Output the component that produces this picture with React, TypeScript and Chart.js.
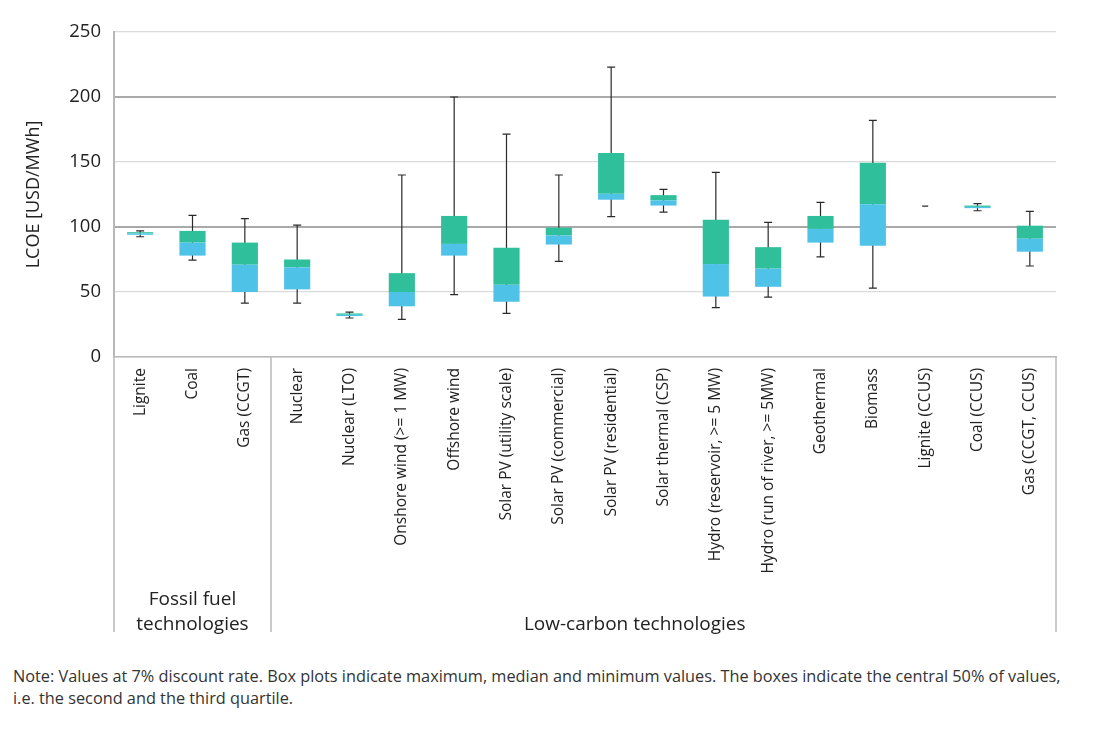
import React, { useEffect, useRef } from "react";
import { Chart, registerables } from "chart.js";

Chart.register(...registerables);

const categories = [
  "Lignite",
  "Coal",
  "Gas (CCGT)",
  "Nuclear",
  "Nuclear (LTO)",
  "Onshore wind (>= 1 MW)",
  "Offshore wind",
  "Solar PV (utility scale)",
  "Solar PV (commercial)",
  "Solar PV (residential)",
  "Solar thermal (CSP)",
  "Hydro (reservoir, >= 5 MW)",
  "Hydro (run of river, >= 5MW)",
  "Geothermal",
  "Biomass",
  "Lignite (CCUS)",
  "Coal (CCUS)",
  "Gas (CCGT, CCUS)",
];

const minVals = [92.5, 74.5, 41.5, 41.5, 30, 29, 48, 33.5, 73.5, 108, 111.5, 38, 46, 77, 53, 116, 112.5, 70];
const q1Vals = [94, 78, 50, 52, 31.5, 39, 78, 42.5, 86.5, 121, 116.5, 46.5, 54, 88, 85.5, 116, 114.5, 81];
const medianVals = [95, 88, 71, 69, 32.5, 50, 87, 55.5, 93.5, 125.5, 120.5, 71.5, 68, 98.5, 117.5, 116, 115.5, 91];
const q3Vals = [96, 97, 88, 75, 33.5, 64.5, 108.5, 84, 99.5, 157, 124.5, 105.5, 84.5, 108.5, 149.5, 116, 116.5, 101];
const maxVals = [97, 109, 106.5, 101.5, 34.5, 140, 200, 171.5, 140, 223, 129, 142, 103.5, 119, 182, 116, 118, 112];

const yTicks = [0, 50, 100, 150, 200, 250];

const groups = [
  { lines: ["Fossil fuel", "technologies"], at: 1 },
  { lines: ["Low-carbon technologies"], at: 9.45 },
];

const GREEN = "#2fbf9a";
const BLUE = "#4fc2e8";
const AXIS = "#b8b8b8";

const whiskers = {
  id: "whiskers",
  beforeDatasetsDraw(chart: Chart) {
    const { ctx } = chart;
    const x = chart.scales.x;
    const y = chart.scales.y;
    ctx.save();
    ctx.strokeStyle = "#2a2a2a";
    ctx.lineWidth = 1.2;
    categories.forEach((_, i) => {
      const px = x.getPixelForValue(i);
      const top = y.getPixelForValue(maxVals[i]);
      const bot = y.getPixelForValue(minVals[i]);
      const cap = top === bot ? 3 : 4;
      ctx.beginPath();
      ctx.moveTo(px, top);
      ctx.lineTo(px, bot);
      ctx.moveTo(px - cap, top);
      ctx.lineTo(px + cap, top);
      ctx.moveTo(px - cap, bot);
      ctx.lineTo(px + cap, bot);
      ctx.stroke();
    });
    ctx.restore();
  },
};

const groupLabels = {
  id: "groupLabels",
  afterDraw(chart: Chart) {
    const { ctx, chartArea } = chart;
    const x = chart.scales.x;
    const bottom = 632;
    const step = x.getPixelForValue(1) - x.getPixelForValue(0);
    ctx.save();
    ctx.strokeStyle = AXIS;
    ctx.lineWidth = 1.5;
    const edges = [chartArea.left, x.getPixelForValue(2) + step / 2, chartArea.right];
    edges.forEach((ex) => {
      ctx.beginPath();
      ctx.moveTo(ex, chartArea.bottom);
      ctx.lineTo(ex, bottom);
      ctx.stroke();
    });
    ctx.fillStyle = "#222";
    ctx.font = "19px 'Open Sans', sans-serif";
    ctx.textAlign = "center";
    ctx.textBaseline = "middle";
    groups.forEach((g) => {
      const cx = g.at === 1 ? (chartArea.left + edges[1]) / 2 : x.getPixelForValue(g.at);
      const n = g.lines.length;
      g.lines.forEach((line, k) => {
        ctx.fillText(line, cx, 625 - (n - 1 - k) * 25);
      });
    });
    ctx.restore();
  },
};

export default function App() {
  const canvasRef = useRef<HTMLCanvasElement>(null);

  useEffect(() => {
    const ctx = canvasRef.current?.getContext("2d");
    if (!ctx) return;
    Chart.defaults.font.family = "'Open Sans', sans-serif";
    const chart = new Chart(ctx, {
      type: "bar",
      data: {
        labels: categories,
        datasets: [
          {
            label: "Lower box",
            data: q1Vals.map((v, i) => [v, medianVals[i]]) as any,
            backgroundColor: BLUE,
            grouped: false,
            barPercentage: 0.5,
            categoryPercentage: 1,
            borderWidth: 0,
          },
          {
            label: "Upper box",
            data: medianVals.map((v, i) => [v, q3Vals[i]]) as any,
            backgroundColor: GREEN,
            grouped: false,
            barPercentage: 0.5,
            categoryPercentage: 1,
            borderWidth: 0,
          },
        ],
      },
      options: {
        responsive: true,
        maintainAspectRatio: false,
        animation: false,
        layout: { padding: { left: 0, right: 50, top: 32, bottom: 0 } },
        plugins: {
          legend: { display: false },
          tooltip: { enabled: false },
        },
        scales: {
          x: {
            grid: { display: false },
            border: { color: AXIS, width: 1.5 },
            ticks: {
              autoSkip: false,
              minRotation: 90,
              maxRotation: 90,
              padding: 3,
              color: "#222",
              font: { size: 15.5 },
            },
            afterFit: (scale: any) => {
              scale.height = 288;
            },
          },
          y: {
            min: 0,
            max: 250,
            afterBuildTicks: (scale: any) => {
              scale.ticks = yTicks.map((v) => ({ value: v }));
            },
            grid: {
              drawTicks: false,
              color: (c: any) =>
                c.tick.value === 100 || c.tick.value === 200 ? "#a9a9a9" : "#dadada",
              lineWidth: (c: any) => (c.tick.value === 100 || c.tick.value === 200 ? 2 : 1.2),
            },
            border: { color: AXIS, width: 2 },
            ticks: {
              padding: 13,
              color: "#222",
              font: { size: 18.5 },
            },
            title: {
              display: true,
              text: "LCOE [USD/MWh]",
              color: "#222",
              font: { size: 18 },
              padding: { top: 23, bottom: 0 },
            },
            afterFit: (scale: any) => {
              scale.width = 114;
            },
          },
        },
      },
      plugins: [whiskers, groupLabels],
    });
    return () => {
      chart.destroy();
    };
  }, []);

  return (
    <div style={{ position: "absolute", left: 0, top: 0, width: 1106, height: 734, background: "#fff" }}>
      <div style={{ position: "absolute", left: 0, top: 0, width: 1106, height: 645 }}>
        <canvas ref={canvasRef} />
      </div>
      <div
        style={{
          position: "absolute",
          left: 13,
          top: 665,
          fontFamily: "'Open Sans', sans-serif",
          fontSize: 16.3,
          lineHeight: "22px",
          color: "#333",
          whiteSpace: "nowrap",
        }}
      >
        Note: Values at 7% discount rate. Box plots indicate maximum, median and minimum values. The boxes indicate the
        central 50% of values,
        <br />
        i.e. the second and the third quartile.
      </div>
    </div>
  );
}
